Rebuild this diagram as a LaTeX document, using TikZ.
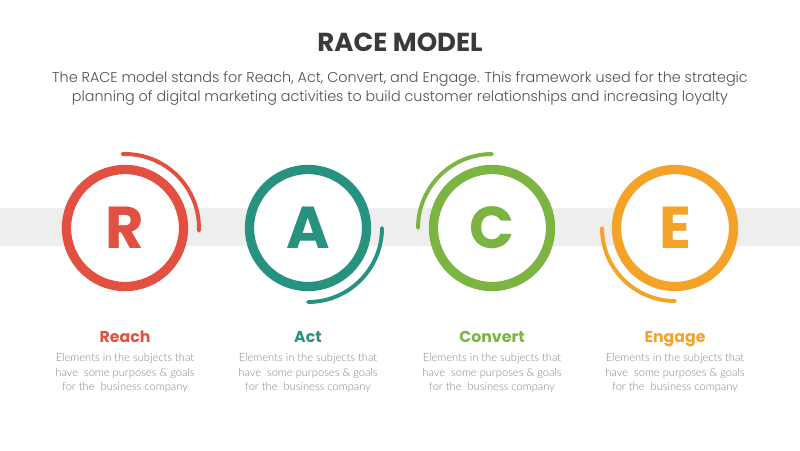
\documentclass[tikz,border=0pt]{standalone}
\usepackage{fontspec}
\setmainfont{Poppins}
\newfontfamily\descfont{Lato}[UprightFont=* Light]
\newfontfamily\subfont{Poppins}[UprightFont=* Light]
\usepackage{tikz}
\usetikzlibrary{positioning,calc}
\definecolor{raceRed}{RGB}{226, 80, 66}
\definecolor{raceTeal}{RGB}{40, 146, 128}
\definecolor{raceGreen}{RGB}{124, 180, 66}
\definecolor{raceOrange}{RGB}{245, 162, 40}
\definecolor{titleGray}{RGB}{58, 58, 58}
\definecolor{subGray}{RGB}{80, 80, 80}
\definecolor{descGray}{RGB}{130, 130, 130}
\definecolor{bandGray}{RGB}{238, 238, 238}

\begin{document}
\begin{tikzpicture}[x=0.025cm,y=0.025cm,
                ring/.style={circle,draw,fill=white,line width=6.6pt,minimum size=2.925cm,
                            inner sep=0pt,font=\fontsize{42}{42}\selectfont\bfseries},
                orbit/.style={line width=2.8pt,line cap=round},
                label/.style={anchor=base,font=\fontsize{11.2}{13}\selectfont\bfseries},
                desc/.style={font=\descfont\fontsize{7.9}{10.3}\selectfont,text=descGray,align=center}
            ]
                \useasboundingbox (0,0) rectangle (800,450);
                \fill[bandGray] (0,204) rectangle (800,242);

                \node[font=\fontsize{18.5}{20}\selectfont\bfseries,text=titleGray] (title) at (400,408) {RACE MODEL};
                \node[font=\subfont\fontsize{10.2}{13.5}\selectfont,text=subGray,align=center] (subtitle) at (400,362)
                    {The RACE model stands for Reach, Act, Convert, and Engage. This framework used for the strategic\\
                     planning of digital marketing activities to build customer relationships and increasing loyalty};

                \node[ring,draw=raceRed,text=raceRed] (reach) at (125,222) {R};
                \draw[orbit,raceRed] ($(reach.center)+(92:74)$) arc (92:-2:74);
                \node[label,text=raceRed] (reachLabel) at (125,108) {Reach};
                \node[desc] (reachDesc) at (125,77) {Elements in the subjects that\\have \ some purposes \& goals\\for the \ business company};

                \node[ring,draw=raceTeal,text=raceTeal] (act) at (308,222) {A};
                \draw[orbit,raceTeal] ($(act.center)+(0:74)$) arc (0:-90:74);
                \node[label,text=raceTeal] (actLabel) at (308,108) {Act};
                \node[desc] (actDesc) at (308,77) {Elements in the subjects that\\have \ some purposes \& goals\\for the \ business company};

                \node[ring,draw=raceGreen,text=raceGreen] (convert) at (492,222) {C};
                \draw[orbit,raceGreen] ($(convert.center)+(90:74)$) arc (90:180:74);
                \node[label,text=raceGreen] (convertLabel) at (492,108) {Convert};
                \node[desc] (convertDesc) at (492,77) {Elements in the subjects that\\have \ some purposes \& goals\\for the \ business company};

                \node[ring,draw=raceOrange,text=raceOrange] (engage) at (675,222) {E};
                \draw[orbit,raceOrange] ($(engage.center)+(180:73)$) arc (180:270:73);
                \node[label,text=raceOrange] (engageLabel) at (675,108) {Engage};
                \node[desc] (engageDesc) at (675,77) {Elements in the subjects that\\have \ some purposes \& goals\\for the \ business company};
            \end{tikzpicture}
\end{document}
